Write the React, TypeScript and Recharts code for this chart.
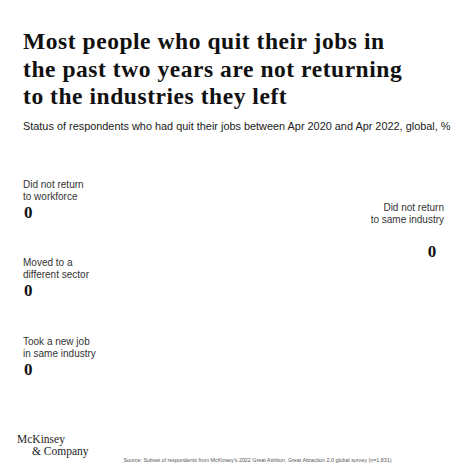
import React from 'react';
import { ScatterChart, Scatter, XAxis, YAxis } from 'recharts';

// source column (left) and target column (right) of the flow chart
const sourceNodes = ['Did not return\nto workforce', 'Moved to a\ndifferent sector', 'Took a new job\nin same industry'];
const sourceValues = [0, 0, 0];
const targetNodes = ['Did not return\nto same industry'];
const targetValues = [0];
// flows: source index -> target index
const links = [
    { source: 0, target: 0, value: 0 },
    { source: 1, target: 0, value: 0 },
];

const TITLE = ['Most people who quit their jobs in', 'the past two years are not returning', 'to the industries they left'];
const SUBTITLE = 'Status of respondents who had quit their jobs between Apr 2020 and Apr 2022, global, %';
const SOURCE = "Source: Subset of respondents from McKinsey's 2022 Great Attrition, Great Attraction 2.0 global survey (n=1,831)";

const SERIF = '"Liberation Serif", "DejaVu Serif", serif';
const SANS = '"Liberation Sans", Arial, sans-serif';

const leftData = sourceNodes.map((name, i) => ({ name, value: sourceValues[i], col: 0, row: i }));
const rightData = targetNodes.map((name, t) => {
    const rows = links.filter((l) => l.target === t).map((l) => l.source);
    const row = rows.reduce((a, b) => a + b, 0) / rows.length;
    return { name, value: targetValues[t], col: 1, row };
});

function LeftNode(props: any) {
    const { cx, cy, payload } = props;
    const lines: string[] = payload.name.split('\n');
    return (
        <g>
            {lines.map((line, i) => (
                <text key={i} x={cx} y={cy - 30 + i * 12} fontSize={10} fill="#333" fontFamily={SANS}>
                    {line}
                </text>
            ))}
            <text x={cx + 1} y={cy} fontSize={17} fontWeight="bold" fill="#111" fontFamily={SERIF}>
                {payload.value}
            </text>
        </g>
    );
}

function RightNode(props: any) {
    const { cx, cy, payload } = props;
    const lines: string[] = payload.name.split('\n');
    return (
        <g>
            {lines.map((line, i) => (
                <text key={i} x={cx} y={cy - 46.5 + i * 12} fontSize={10} fill="#333" fontFamily={SANS} textAnchor="end">
                    {line}
                </text>
            ))}
            <text x={cx - 12} y={cy} fontSize={17} fontWeight="bold" fill="#111" fontFamily={SERIF} textAnchor="middle">
                {payload.value}
            </text>
        </g>
    );
}

export default function App() {
    return (
        <div style={{ position: 'absolute', left: 0, top: 0, width: 474, height: 474, background: '#fff', overflow: 'hidden' }}>
            <div style={{ position: 'absolute', left: 23, top: 28, fontFamily: SERIF, fontWeight: 'bold', fontSize: 23.5, letterSpacing: 0.55, lineHeight: '27.5px', color: '#111', whiteSpace: 'nowrap' }}>
                {TITLE.map((t) => (
                    <div key={t}>{t}</div>
                ))}
            </div>
            <div style={{ position: 'absolute', left: 23, top: 120, fontFamily: SANS, fontSize: 10.9, color: '#1a1a1a', whiteSpace: 'nowrap' }}>
                {SUBTITLE}
            </div>
            <div style={{ position: 'absolute', left: 0, top: 0 }}>
                <ScatterChart width={474} height={474} margin={{ top: 218, bottom: 474 - 374.5, left: 23, right: 30 }}>
                    <XAxis type="number" dataKey="col" domain={[0, 1]} hide />
                    <YAxis type="number" dataKey="row" domain={[0, 2]} reversed hide />
                    <Scatter data={leftData} shape={LeftNode} isAnimationActive={false} />
                    <Scatter data={rightData} shape={RightNode} isAnimationActive={false} />
                </ScatterChart>
            </div>
            <div style={{ position: 'absolute', left: 17, top: 433, fontFamily: SERIF, fontSize: 11.5, lineHeight: '12px', color: '#222' }}>
                <div>McKinsey</div>
                <div style={{ paddingLeft: 15 }}>&amp; Company</div>
            </div>
            <div style={{ position: 'absolute', left: 0, width: 515, top: 457, textAlign: 'center', fontFamily: SANS, fontSize: 5.35, color: '#555', whiteSpace: 'nowrap' }}>
                {SOURCE}
            </div>
        </div>
    );
}
